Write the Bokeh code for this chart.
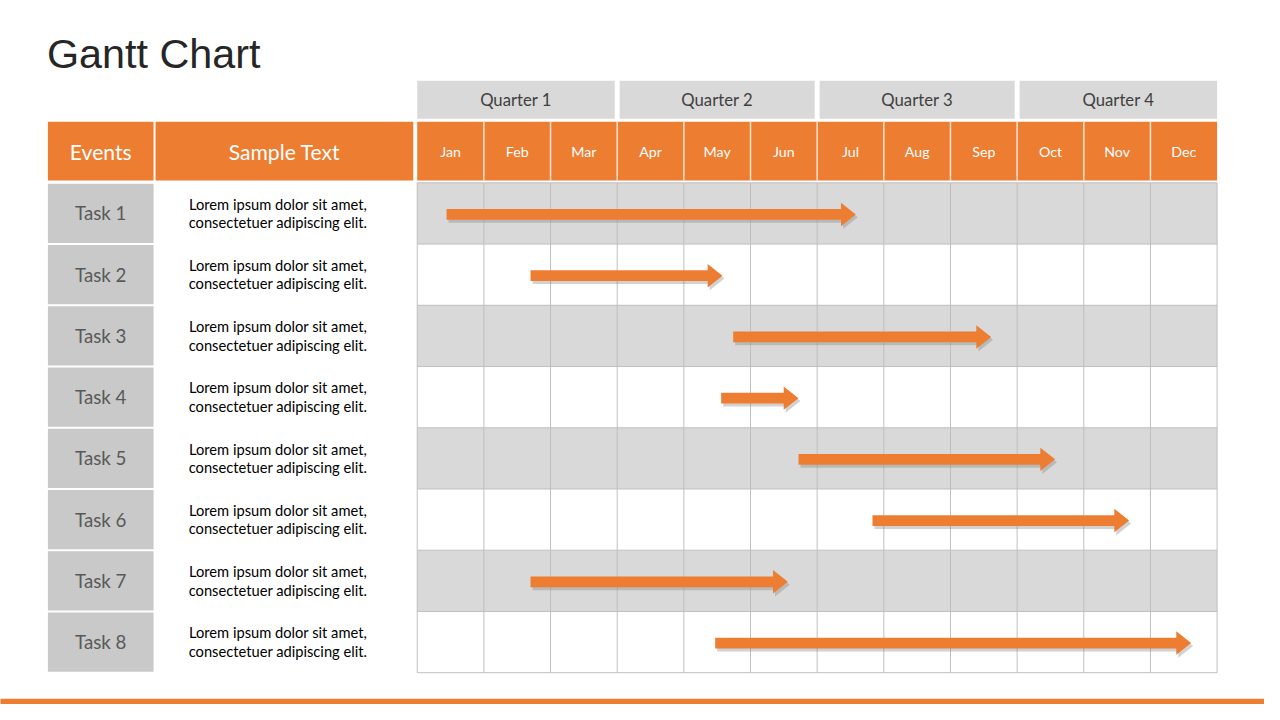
import numpy as np
from bokeh.plotting import figure
from bokeh.models import Range1d
from bokeh.core.properties import value
from bokeh.embed import file_html
from bokeh.resources import INLINE

# ---------------- data ----------------
title = "Gantt Chart"
tasks = ["Task 1", "Task 2", "Task 3", "Task 4", "Task 5", "Task 6", "Task 7", "Task 8"]
desc_line1 = ["Lorem ipsum dolor sit amet,"] * 8
desc_line2 = ["consectetuer adipiscing elit."] * 8
months = ["Jan", "Feb", "Mar", "Apr", "May", "Jun", "Jul", "Aug", "Sep", "Oct", "Nov", "Dec"]
quarters = ["Quarter 1", "Quarter 2", "Quarter 3", "Quarter 4"]
col_headers = ["Events", "Sample Text"]
# task start / end in month units (0 = start of Jan, 12 = end of Dec)
task_start = [0.44, 1.70, 4.74, 4.56, 5.72, 6.83, 1.70, 4.47]
task_end = [6.58, 4.58, 8.61, 5.72, 9.57, 10.68, 5.56, 11.61]

# ---------------- styling / scale helpers ----------------
ORANGE = "#ED7D31"
GRAY_ROW = "#D9D9D9"
GRAY_TASK = "#C9C9C9"
GRID = "#BFBFBF"
BODY_FONT = "Lato"
PX_X = 67.5     # layout pixels per month
PX_Y = 62.625   # layout pixels per row
Y0 = 217.8      # layout y of first row centre
X0 = 422.0      # layout x of Jan start

W, H = 1264, 704
S = (W / 1280 + H / 720) / 2


def hx(px):
    return px / PX_X


def hy(px):
    return px / PX_Y


def fs(px):
    return f"{px * S:.1f}px"


p = figure(width=W, height=H,
           x_range=Range1d(hx(0 - X0), hx(1280 - X0)),
           y_range=Range1d(hy(720 - Y0), hy(0 - Y0)),
           x_axis_type=None, y_axis_type=None, output_backend="svg", toolbar_location=None,
           min_border=0, background_fill_color="white", border_fill_color="white")
p.grid.visible = False
p.outline_line_color = None

n = len(tasks)
ridx = np.arange(n)
nm = len(months)

# ---- row backgrounds in chart area ----
row_col = [GRAY_ROW if i % 2 == 0 else "white" for i in range(n)]
p.quad(left=0, right=nm, top=ridx - 0.5, bottom=ridx + 0.5, fill_color=row_col, line_color=None)

# ---- grid lines ----
vx = np.arange(nm + 1)
p.segment(x0=vx, x1=vx, y0=-0.5, y1=n - 0.5, line_color=GRID, line_width=1)
hyv = np.arange(n + 1) - 0.5
p.segment(x0=0, x1=nm, y0=hyv, y1=hyv, line_color=GRID, line_width=1)

# ---- task cells (left column) ----
ev_l, ev_r = hx(48 - X0), hx(155 - X0)
st_l, st_r = hx(157 - X0), hx(418 - X0)
gap = hy(1)
p.quad(left=ev_l, right=ev_r, top=ridx - 0.5 + gap, bottom=ridx + 0.5 - gap, fill_color=GRAY_TASK, line_color=None)

# ---- header row ----
head_t, head_b = hy(124 - Y0), hy(184 - Y0)
p.quad(left=[ev_l, st_l], right=[ev_r, st_r], top=head_t, bottom=head_b, fill_color=ORANGE, line_color=None)
p.quad(left=0, right=nm, top=head_t, bottom=head_b, fill_color=ORANGE, line_color=None)
sx = np.arange(1, nm)
p.segment(x0=sx, x1=sx, y0=head_t, y1=head_b, line_color="#FBE3D3", line_width=1.5)

# ---- quarter boxes ----
qg = hx(2.5)
q_idx = np.arange(len(quarters))
q_left = q_idx * 3 + np.where(q_idx > 0, qg, 0)
q_right = (q_idx + 1) * 3 - np.where(q_idx < 3, qg, 0)
q_t, q_b = hy(82 - Y0), hy(121 - Y0)
p.quad(left=q_left, right=q_right, top=q_t, bottom=q_b, fill_color=GRAY_ROW, line_color=None)

# ---- bottom orange bar ----
p.quad(left=hx(-10 - X0), right=hx(1290 - X0), top=hy(714 - Y0), bottom=hy(730 - Y0),
       fill_color=ORANGE, line_color=None)

# ---- arrows ----
sh, hh, hl = hy(5.5), hy(12), hx(15)
xs_list, ys_list, sxs, sys = [], [], [], []
dx, dy = hx(2), hy(3)
for i in range(n):
    s, e, y = task_start[i], task_end[i], i + hy(1)
    xs = [s, e - hl, e - hl, e, e - hl, e - hl, s]
    ys = [y - sh, y - sh, y - hh, y, y + hh, y + sh, y + sh]
    xs_list.append(xs)
    ys_list.append(ys)
    sxs.append([v + dx for v in xs])
    sys.append([v + dy for v in ys])
p.patches(xs=sxs, ys=sys, fill_color="#7F7F7F", fill_alpha=0.35, line_color=None)
p.patches(xs=xs_list, ys=ys_list, fill_color=ORANGE, line_color=None)

# ---------------- texts ----------------
p.text(x=[hx(47 - X0)], y=[hy(55 - Y0)], text=[title], text_font=value("Liberation Sans"),
       text_font_size=fs(42), text_color="#262626", text_baseline="alphabetic", text_align="left")

p.text(x=[(ev_l + ev_r) / 2, (st_l + st_r) / 2], y=[(head_t + head_b) / 2] * 2, text=col_headers,
       text_font=value(BODY_FONT), text_font_size=fs(21.5), text_color="white",
       text_align="center", text_baseline="middle")

p.text(x=np.arange(nm) + 0.5, y=[(head_t + head_b) / 2] * nm, text=months,
       text_font=value(BODY_FONT), text_font_size=fs(14.5), text_color="white",
       text_align="center", text_baseline="middle")

p.text(x=(q_left + q_right) / 2, y=[(q_t + q_b) / 2] * 4, text=quarters,
       text_font=value(BODY_FONT), text_font_size=fs(17), text_color="#404040",
       text_align="center", text_baseline="middle")

p.text(x=[(ev_l + ev_r) / 2] * n, y=ridx, text=tasks,
       text_font=value(BODY_FONT), text_font_size=fs(19), text_color="#595959",
       text_align="center", text_baseline="middle")

dcx = hx(281 - X0)
p.text(x=[dcx] * n, y=ridx - hy(10), text=desc_line1,
       text_font=value(BODY_FONT), text_font_size=fs(15), text_color="black",
       text_align="center", text_baseline="middle")
p.text(x=[dcx] * n, y=ridx + hy(9), text=desc_line2,
       text_font=value(BODY_FONT), text_font_size=fs(15), text_color="black",
       text_align="center", text_baseline="middle")

open("out.html", "w").write(file_html(p, INLINE))
